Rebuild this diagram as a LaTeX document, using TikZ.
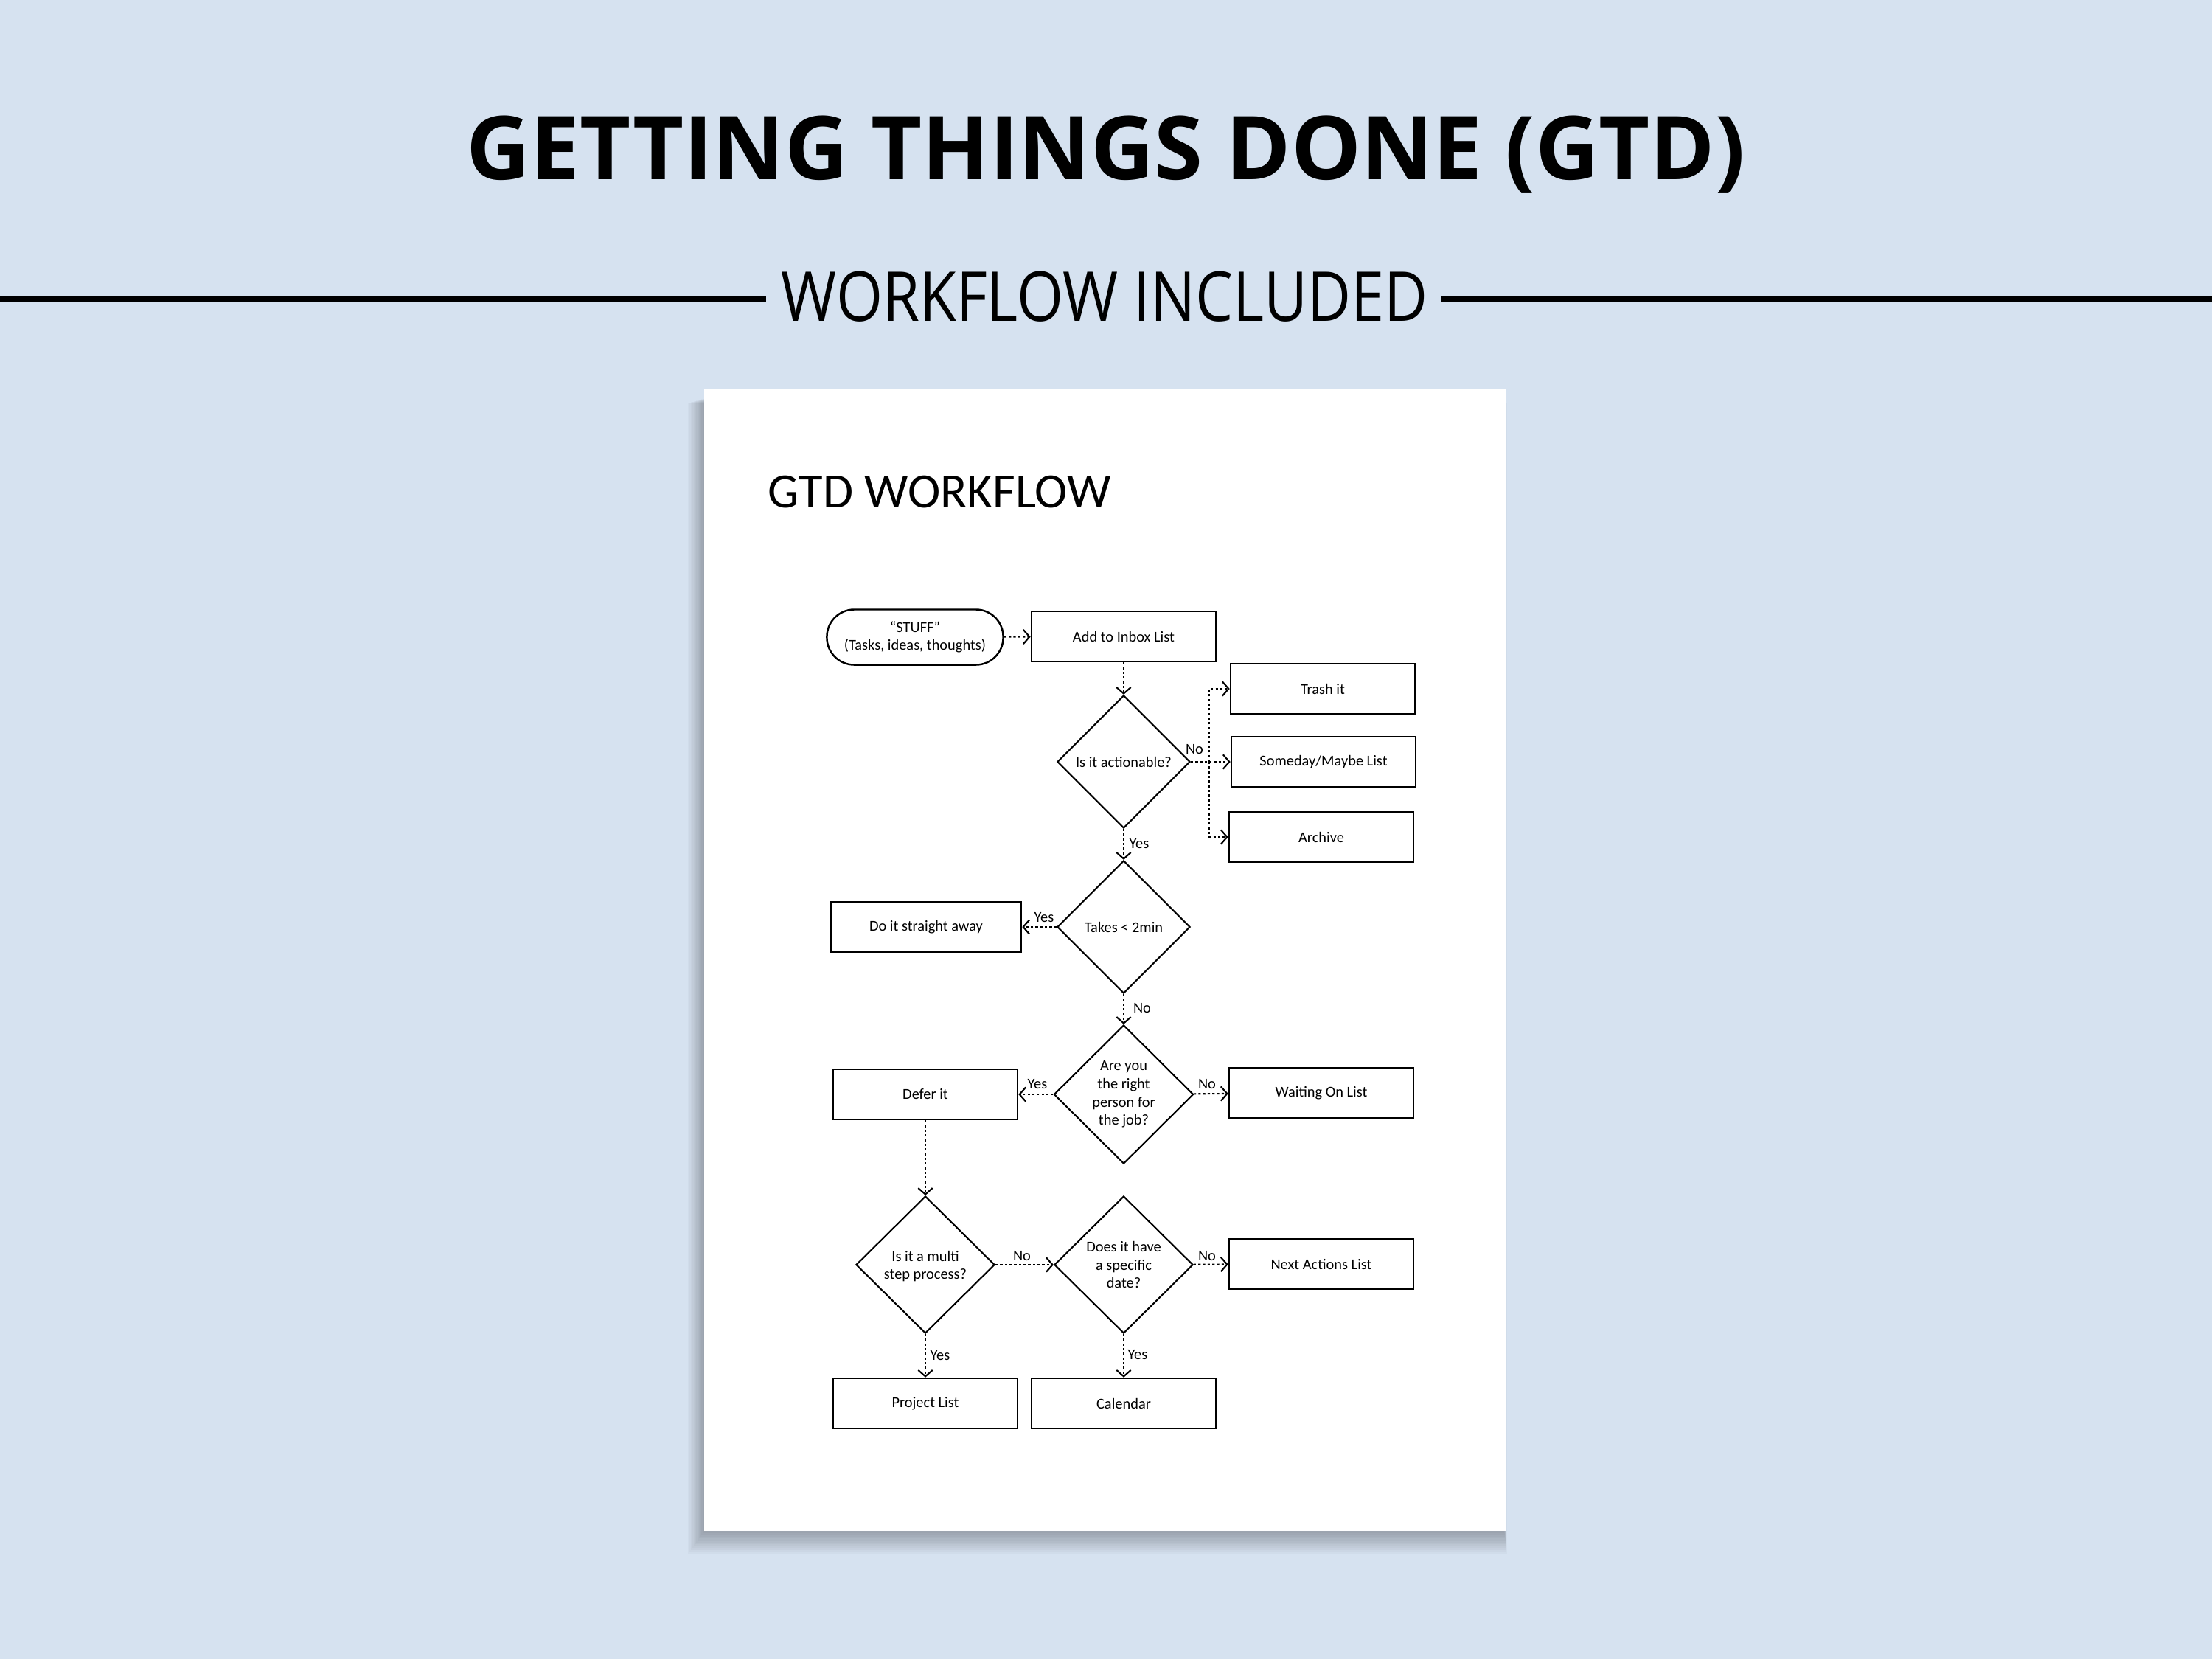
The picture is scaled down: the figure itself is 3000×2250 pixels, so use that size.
\documentclass[tikz,border=0pt]{standalone}
\usepackage{fontspec}
\setmainfont{Carlito}
\newfontfamily\titlefont{Open Sans}
\usetikzlibrary{arrows.meta,shapes.geometric}
\definecolor{bg}{RGB}{214,226,240}
\tikzset{
  box/.style={draw, line width=0.7pt, minimum width=2.5cm, minimum height=0.68cm, inner sep=0pt, font=\fontsize{5.8}{7}\selectfont, fill=white},
  dia/.style={diamond, draw, line width=0.6pt, inner sep=0pt, minimum width=1.8cm, minimum height=1.8cm},
  dtext/.style={align=center, font=\fontsize{5.8}{7}\selectfont, inner sep=0pt},
  flow/.style={dash pattern=on 0.9pt off 0.9pt, line width=0.6pt, -{Straight Barb[length=2.4pt,width=5.5pt]}},
  lbl/.style={font=\fontsize{5.8}{7}\selectfont, inner sep=0pt}
}
\begin{document}
\begin{tikzpicture}[x=0.01cm,y=-0.01cm]
\useasboundingbox (0,0) rectangle (3000,2250);
\fill[bg] (0,0) rectangle (3000,2250);
% titles
\node[font=\titlefont\bfseries\fontsize{34}{40}\selectfont, inner sep=0pt] (title) at (1500,210) {GETTING THINGS DONE (GTD)};
\node[font=\titlefont\fontsize{26.5}{30}\selectfont, inner sep=0pt] (sub) at (1498,402) {\scalebox{0.87}[1]{WORKFLOW INCLUDED}};
\coordinate (l0) at (0,405);
\coordinate (l1e) at (1039,405);
\coordinate (r1s) at (1955,405);
\coordinate (r0) at (3000,405);
\draw[line width=2.5pt] (l0) -- (l1e);
\draw[line width=2.5pt] (r1s) -- (r0);
% paper shadow
\foreach \i in {1,...,12}{
  \fill[black, opacity=0.022] (955-1.8*\i, 540+0.5*\i) rectangle (2040+0.3*\i, 2076+2.6*\i);
}
\fill[white] (955,528) rectangle (2043,2076);
\node[anchor=west, font=\fontsize{19}{23}\selectfont, inner sep=0pt] (gtd) at (1041,667) {GTD WORKFLOW};
% nodes
\node[box, rounded corners=0.37cm, minimum width=2.39cm, minimum height=0.75cm, align=center] (stuff) at (1241,864) {``STUFF''\\(Tasks, ideas, thoughts)};
\node[box] (inbox) at (1524,863) {Add to Inbox List};
\node[box] (trash) at (1794,934) {Trash it};
\node[box] (someday) at (1795,1033) {Someday/Maybe List};
\node[box] (archive) at (1792,1135) {Archive};
\node[dia] (act) at (1524,1033) {};
\node[dtext] at (act) {Is it actionable?};
\node[dia] (takes) at (1524,1257) {};
\node[dtext] at (takes) {Takes < 2min};
\node[box, minimum width=2.58cm] (doit) at (1256,1257) {Do it straight away};
\node[dia, minimum width=1.89cm, minimum height=1.88cm] (person) at (1524,1484) {};
\node[dtext] at (person) {Are you\\the right\\person for\\the job?};
\node[box] (defer) at (1255,1484) {Defer it};
\node[box] (waiting) at (1792,1482) {Waiting On List};
\node[dia, minimum width=1.88cm, minimum height=1.86cm] (multi) at (1255,1715) {};
\node[dtext] at ([yshift=-0.6pt]multi) {Is it a multi\\step process?};
\node[dia, minimum width=1.88cm, minimum height=1.86cm] (date) at (1524,1715) {};
\node[dtext] at (date) {Does it have\\a specific\\date?};
\node[box] (next) at (1792,1714) {Next Actions List};
\node[box] (project) at (1255,1903) {Project List};
\node[box] (calendar) at (1524,1903) {Calendar};
% connectors
\draw[flow] (stuff) -- (inbox);
\draw[flow] (inbox) -- (act);
\coordinate (bx) at (1640,1033);
\draw[dash pattern=on 0.9pt off 0.9pt, line width=0.6pt] (act.east) -- (bx);
\draw[flow] (bx) |- (trash.west);
\draw[flow] (bx) -- (someday.west);
\draw[flow] (bx) |- (archive.west);
\draw[flow] (act) -- (takes);
\draw[flow] (takes) -- (doit);
\draw[flow] (takes) -- (person);
\draw[flow] (person) -- (defer);
\draw[flow] (person) -- (waiting);
\draw[flow] (defer) -- (multi);
\draw[flow] (multi) -- (date);
\draw[flow] (date) -- (next);
\draw[flow] (multi) -- (project);
\draw[flow] (date) -- (calendar);
% labels
\node[lbl] (t1) at (1620,1016) {No};
\node[lbl] (t2) at (1545,1144) {Yes};
\node[lbl] (t3) at (1416,1244) {Yes};
\node[lbl] (t4) at (1549,1367) {No};
\node[lbl] (t5) at (1407,1470) {Yes};
\node[lbl] (t6) at (1637,1470) {No};
\node[lbl] (t7) at (1386,1703) {No};
\node[lbl] (t8) at (1637,1703) {No};
\node[lbl] (t9) at (1275,1838) {Yes};
\node[lbl] (t10) at (1543,1837) {Yes};
\end{tikzpicture}
\end{document}
